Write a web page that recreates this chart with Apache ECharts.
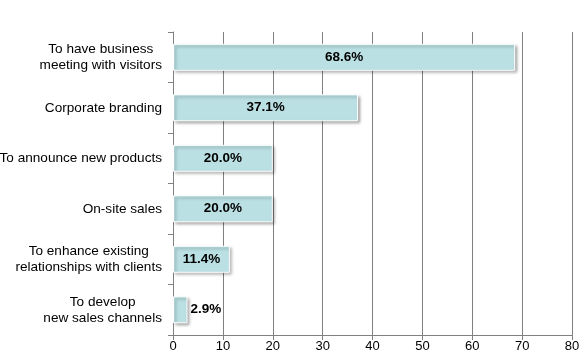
<!DOCTYPE html>
<html><head><meta charset="utf-8">
<script src="https://cdn.jsdelivr.net/npm/echarts@6/dist/echarts.min.js"></script>
<style>html,body{margin:0;padding:0;background:#fff}#c{width:588px;height:362px}</style>
</head><body><div id="c"></div>
<script>
const categories = [
  "To have business\nmeeting with visitors",
  "Corporate branding",
  "To announce new products",
  "On-site sales",
  "To enhance existing\nrelationships with clients",
  "To develop\nnew sales channels"
];
const values = [68.6, 37.1, 20.0, 20.0, 11.4, 2.9];
const xTicks = {min: 0, max: 80, interval: 10};

const labelFont = {color: '#000', fontSize: 13.6, fontFamily: 'Liberation Sans, Arial', lineHeight: 16};
const chart = echarts.init(document.getElementById('c'));
chart.setOption({
  animation: false,
  grid: {left: 173, right: 16, top: 32, bottom: 27, containLabel: false, outerBoundsMode: 'none'},
  xAxis: {
    type: 'value', min: xTicks.min, max: xTicks.max, interval: xTicks.interval,
    axisLine: {show: true, lineStyle: {color: '#808080'}},
    axisTick: {show: true, length: 5, lineStyle: {color: '#808080'}},
    axisLabel: {color: '#000', fontSize: 13, fontFamily: 'Liberation Sans, Arial', margin: 5},
    splitLine: {show: true, lineStyle: {color: '#808080', width: 1}}
  },
  yAxis: {
    type: 'category', data: categories, inverse: true,
    axisLine: {show: true, lineStyle: {color: '#808080'}},
    axisTick: {show: true, length: 5, lineStyle: {color: '#808080'}},
    axisLabel: Object.assign({}, labelFont, {
      margin: 11, align: 'right',
      formatter: v => v.split('\n').map(l => '{c|' + l + '}').join('\n'),
      rich: {c: Object.assign({}, labelFont, {align: 'center'})}
    })
  },
  series: [{
    type: 'bar', data: values.map((v, i) => ({
      value: v,
      label: {position: v < 5 ? 'right' : 'inside', distance: 3}
    })),
    barWidth: 27,
    itemStyle: {
      color: '#bae0e3', borderColor: '#fff', borderWidth: 1,
      shadowColor: 'rgba(0,0,0,0.35)', shadowBlur: 3, shadowOffsetX: 2, shadowOffsetY: 2
    },
    label: {
      show: true, color: '#000', fontWeight: 'bold', fontSize: 13.5,
      fontFamily: 'Liberation Sans, Arial',
      formatter: p => p.value.toFixed(1) + '%'
    }
  }]
});
</script></body></html>
